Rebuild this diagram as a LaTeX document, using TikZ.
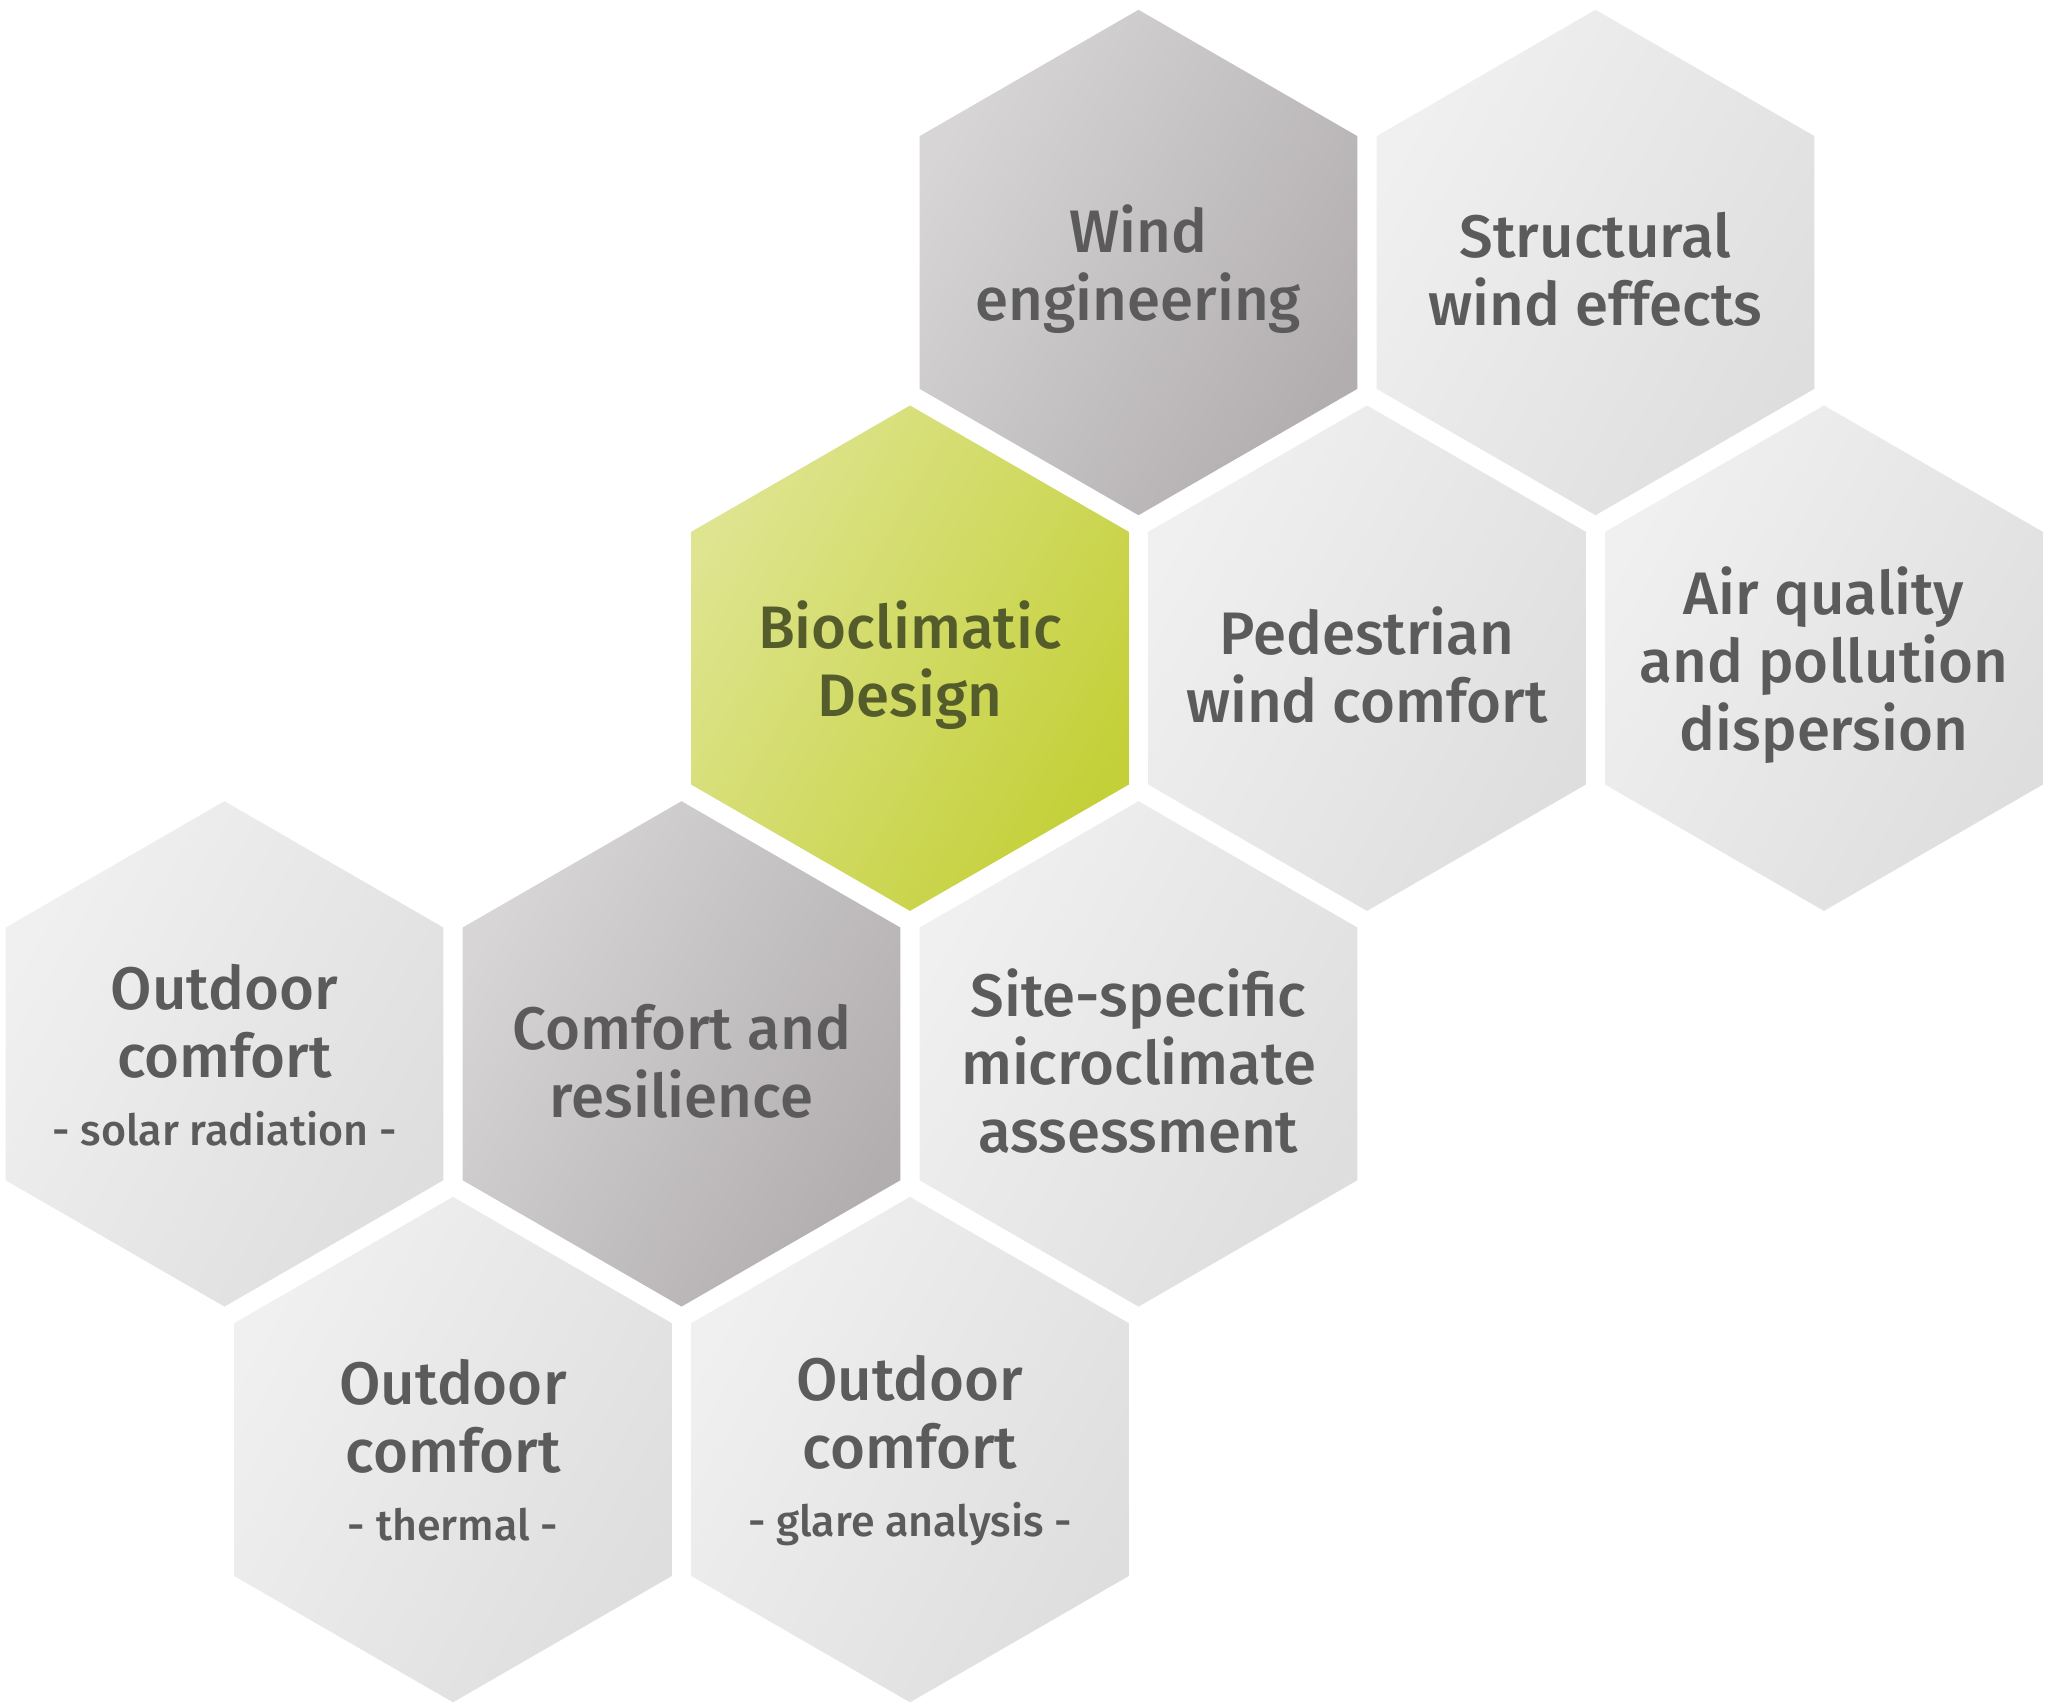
\documentclass[tikz,border=0pt]{standalone}
\usepackage{fontspec}
\setmainfont{Fira Sans}[UprightFont={* Medium}, BoldFont={* SemiBold}]
\usetikzlibrary{shapes.geometric}
\definecolor{darkA}{HTML}{D7D5D6}
\definecolor{darkB}{HTML}{B2AEB0}
\definecolor{lightA}{HTML}{F0F0F1}
\definecolor{lightB}{HTML}{DFDEDF}
\definecolor{greenA}{HTML}{DEE48F}
\definecolor{greenB}{HTML}{C4D038}
\definecolor{txtgrey}{HTML}{5C5B5C}
\definecolor{txtgreen}{HTML}{555C2B}
\tikzset{
  hexbase/.style={regular polygon, regular polygon sides=6, regular polygon rotate=30,
    minimum size=505.4pt, inner sep=0pt, outer sep=0pt, draw=none},
  hexdark/.style={hexbase, top color=darkA, bottom color=darkB, shading angle=60},
  hexlight/.style={hexbase, top color=lightA, bottom color=lightB, shading angle=60},
  hexgreen/.style={hexbase, top color=greenA, bottom color=greenB, shading angle=60},
  textbase/.style={align=center, text=txtgrey, inner sep=0pt,
    font=\fontsize{60}{68}\selectfont},
  hextext/.style={textbase, yshift=-7pt},
  hextextsub/.style={textbase, yshift=-1pt},
  hextextgreen/.style={hextext, text=txtgreen},
}
\newcommand{\subline}[1]{{\fontsize{43}{68}\selectfont #1}}
\begin{document}
\begin{tikzpicture}[x=1pt, y=-1pt]
\useasboundingbox[fill=white] (0,0) rectangle (2048,1707);
% row 0
\node[hexdark]  (wind)   at (1138.5, 262.5) {};
\node[hexlight] (struct) at (1595.5, 262.5) {};
% row 1
\node[hexgreen] (bio)    at (910.0, 658.2) {};
\node[hexlight] (ped)    at (1367.0, 658.2) {};
\node[hexlight] (air)    at (1824.0, 658.2) {};
% row 2
\node[hexlight] (solar)  at (224.5, 1053.9) {};
\node[hexdark]  (comf)   at (681.5, 1053.9) {};
\node[hexlight] (site)   at (1138.5, 1053.9) {};
% row 3
\node[hexlight] (therm)  at (453.0, 1449.6) {};
\node[hexlight] (glare)  at (910.0, 1449.6) {};
% texts
\node[hextext] (windT)   at (wind)   {Wind\\engineering};
\node[hextext] (structT) at (struct) {Structural\\wind effects};
\node[hextextgreen] (bioT) at (bio)  {Bioclimatic\\Design};
\node[hextext] (pedT)    at (ped)    {Pedestrian\\wind comfort};
\node[hextext] (airT)    at (air)    {Air quality\\and pollution\\dispersion};
\node[hextextsub] (solarT)  at (solar)  {Outdoor\\comfort\\\subline{- solar radiation -}};
\node[hextext] (comfT)   at (comf)   {Comfort and\\resilience};
\node[hextext] (siteT)   at (site)   {Site-specific\\microclimate\\assessment};
\node[hextextsub] (thermT)  at (therm)  {Outdoor\\comfort\\\subline{- thermal -}};
\node[hextextsub] (glareT)  at (glare)  {Outdoor\\comfort\\\subline{- glare analysis -}};
\end{tikzpicture}
\end{document}
